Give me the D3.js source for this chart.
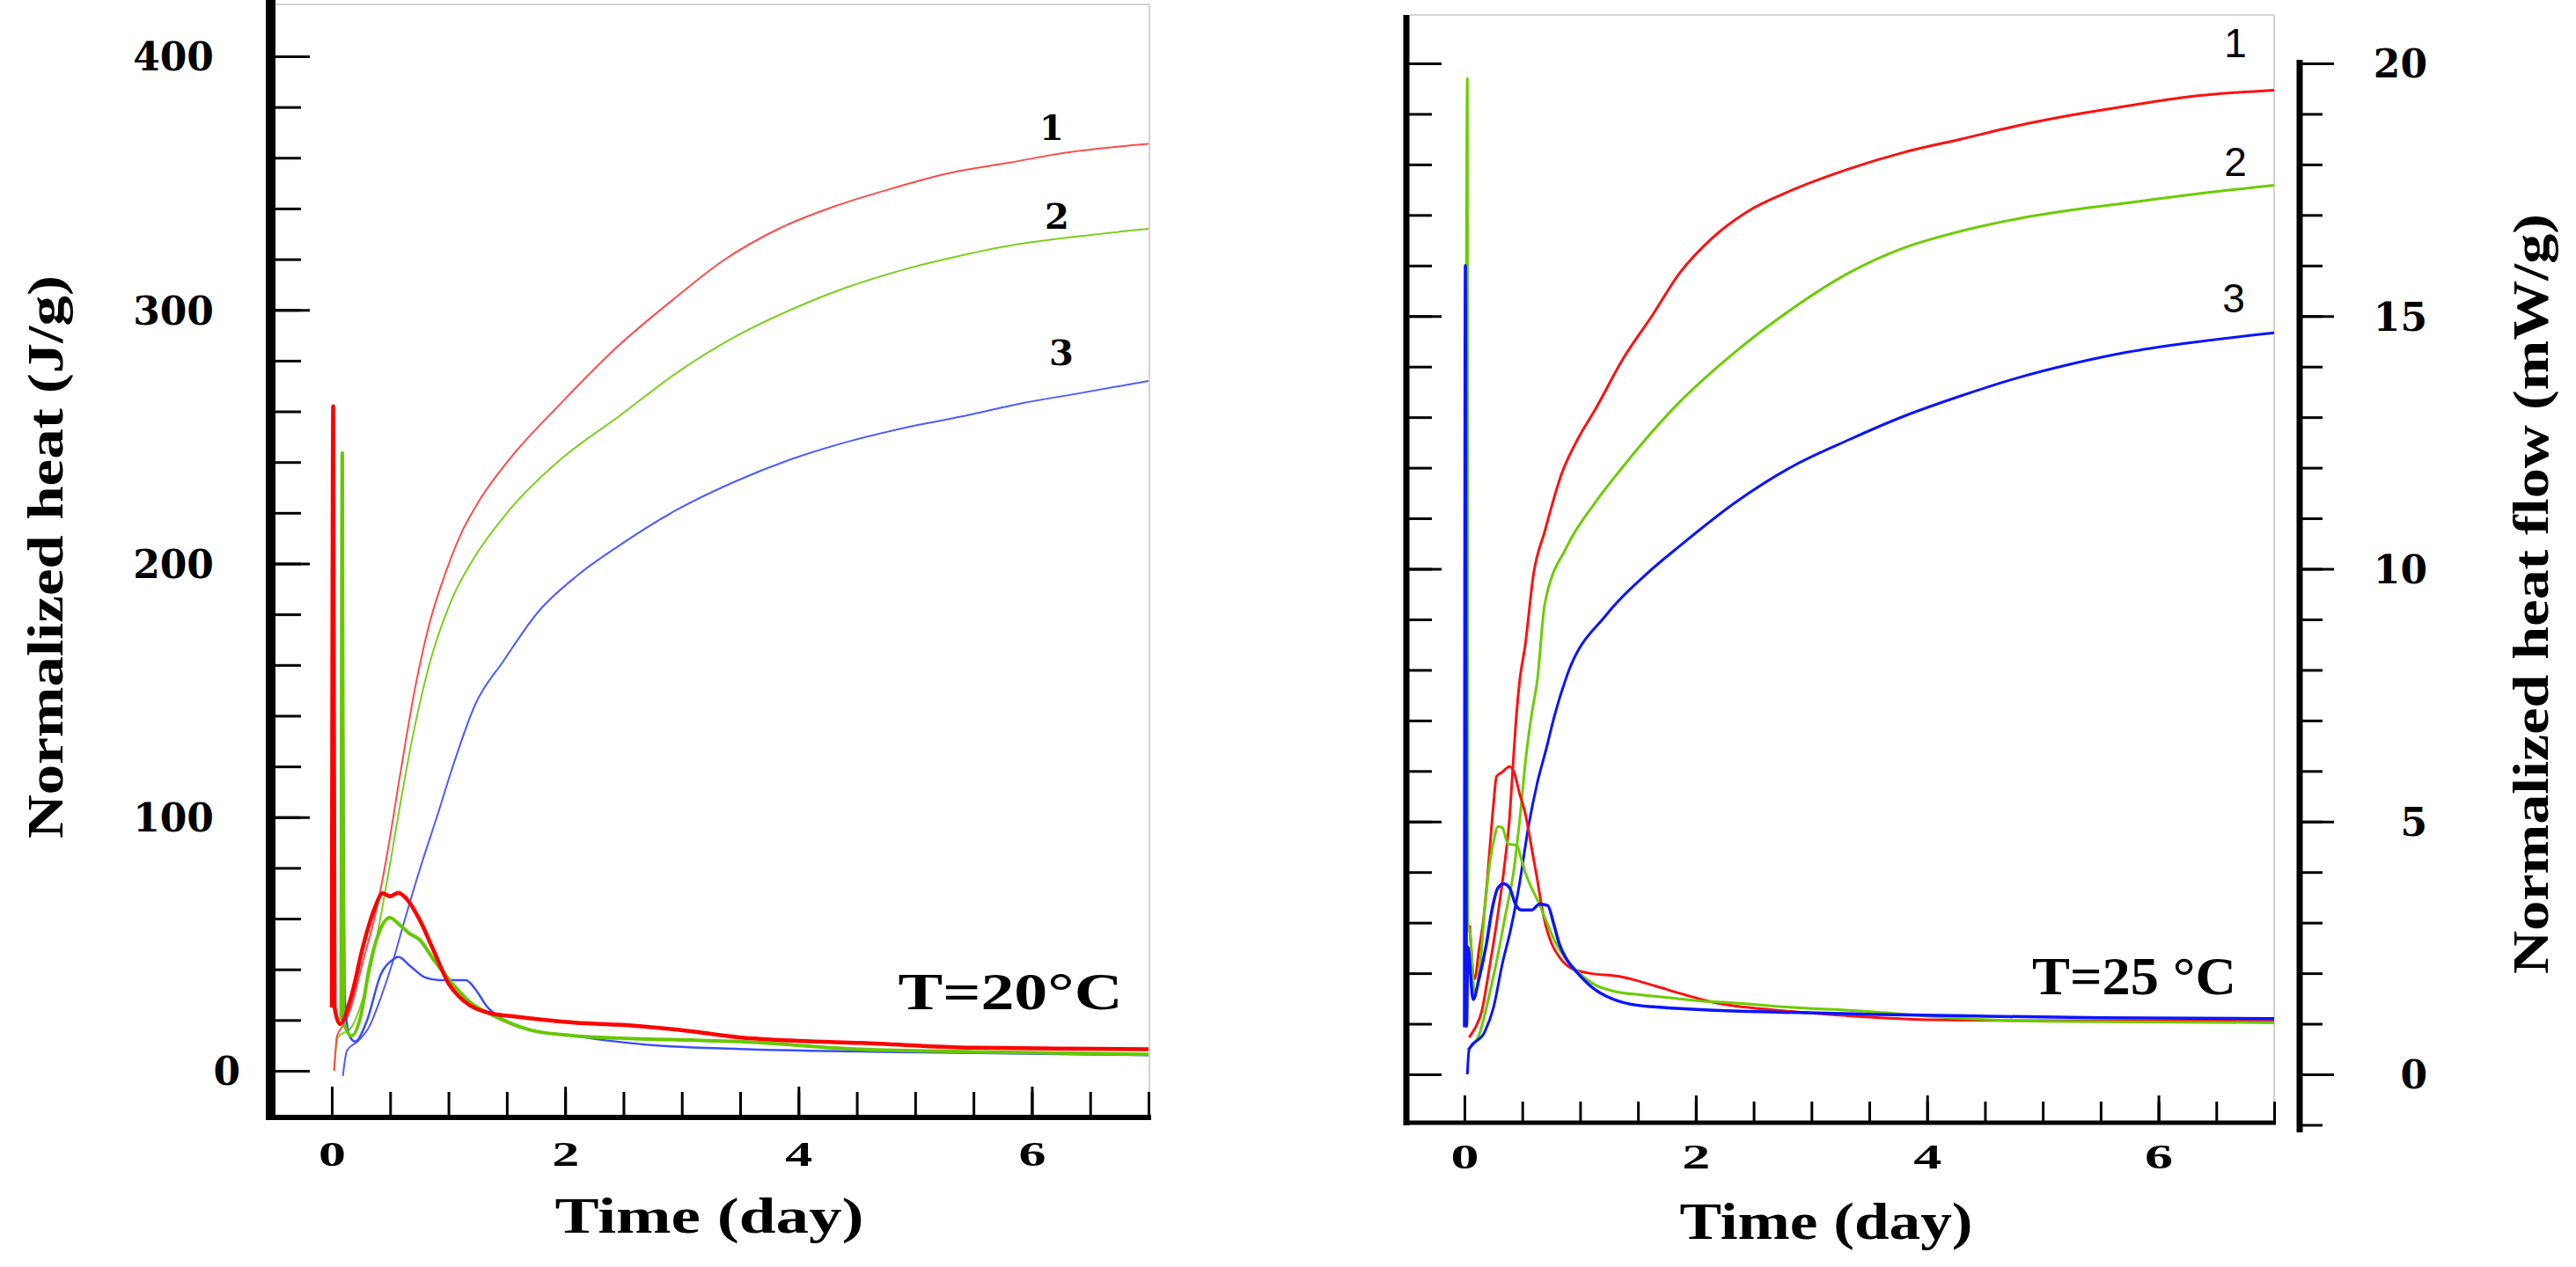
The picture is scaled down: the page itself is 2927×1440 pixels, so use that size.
<!doctype html>
<html>
<head>
<meta charset="utf-8">
<title>Normalized heat</title>
<script src="https://cdn.jsdelivr.net/npm/d3@7"></script>
<style>
  body { margin: 0; background: #fff; }
  svg { display: block; }
  .ttl { font-family: "Liberation Serif", "Times New Roman", serif; font-weight: bold; fill: #000; }
  .num { font-family: "DejaVu Serif", serif; font-weight: bold; fill: #000; }
</style>
</head>
<body>
<svg width="2927" height="1440"></svg>
<script>
// tick labels
var dayTicks = [0, 2, 4, 6];
var heatTicks = [0, 100, 200, 300, 400];
var flowTicks = [0, 5, 10, 15, 20];

// T=20 C panel, [day, J/g] - cumulative heat
var cum20_1 = [[0.02,0],[0.045,13.8],[0.1,18],[0.15,23],[0.27,43.7],[0.37,61],[0.46,81.7],[0.59,118],[0.71,150],[0.835,176],[0.98,197],[1.1,211],[1.28,226],[1.52,241],[1.96,263],[2.46,286],[2.95,305],[3.34,319],[3.83,332],[4.32,341],[4.81,348],[5.3,354],[5.8,358],[6.29,362],[7.0,365.5]];
var cum20_2 = [[0.02,0],[0.05,13],[0.17,17.3],[0.32,38],[0.42,61],[0.5,81.7],[0.56,98],[0.69,131],[0.835,160],[1.03,186],[1.23,203],[1.52,221],[1.96,241],[2.46,258],[2.95,275],[3.44,289],[3.93,300],[4.42,309],[4.91,316],[5.4,321.5],[5.89,326],[6.39,329],[7.0,332]];
var cum20_3 = [[0.095,-2],[0.13,8],[0.22,11.5],[0.32,17.3],[0.42,28.8],[0.52,42.6],[0.62,58.7],[0.77,81.7],[0.9,100],[1.03,119],[1.23,144.5],[1.47,161.5],[1.77,181],[2.11,195.5],[2.46,207],[2.95,221],[3.44,232],[3.93,241],[4.42,248],[4.91,253.5],[5.4,258],[5.89,263],[6.39,267],[7.0,272]];
// T=20 C panel - heat flow traces
var flow20_1 = [[0.0,25],[0.012,262],[0.024,25],[0.07,18.4],[0.17,29.9],[0.27,49.5],[0.37,64.4],[0.435,70],[0.5,68.8],[0.57,70.2],[0.65,67.3],[0.75,59.8],[0.875,47.2],[1.0,34.5],[1.13,27.6],[1.33,23],[1.58,21.3],[2.08,19],[2.59,17.8],[3.09,15.5],[3.49,13.2],[4.0,11.8],[4.52,11],[5.5,9.1],[6.2,8.8],[7.0,8.5]];
var flow20_2 = [[0.08,20],[0.09,243.6],[0.1,19.6],[0.17,13.8],[0.25,21.9],[0.32,40.3],[0.4,54],[0.5,60.4],[0.57,58],[0.67,54],[0.75,51.8],[0.875,43.7],[1.03,34.5],[1.2,26.5],[1.38,21.9],[1.7,16.1],[2.08,13.8],[2.59,12.7],[3.09,12.1],[3.49,11.5],[4.52,8.5],[5.5,7.5],[7.0,6.5]];
var flow20_3 = [[0.085,20],[0.095,148.7],[0.11,30],[0.15,14],[0.2,11.5],[0.3,19.6],[0.42,38],[0.52,43.7],[0.57,44.9],[0.67,41.4],[0.8,36.8],[0.925,35.7],[1.15,35.7],[1.23,32.2],[1.33,25.3],[1.48,20.1],[1.7,16.1],[2.08,13.8],[2.33,12.1],[2.84,9.8],[3.49,8.6],[4.52,7.6],[5.5,7],[7.0,6.2]];

// T=25 C panel, [day, mW/g]
var cum25_1 = [[0.04,0.73],[0.088,0.9],[0.15,1.25],[0.2,1.89],[0.25,2.58],[0.3,3.34],[0.35,4.21],[0.39,5.08],[0.415,5.95],[0.44,6.82],[0.476,7.76],[0.524,8.47],[0.597,9.89],[0.694,10.74],[0.84,11.88],[0.985,12.59],[1.13,13.15],[1.37,14.15],[1.62,15.0],[1.86,15.85],[2.15,16.56],[2.44,17.06],[2.83,17.49],[3.32,17.91],[3.8,18.24],[4.29,18.5],[4.77,18.76],[5.26,18.98],[5.74,19.16],[6.23,19.33],[7.0,19.47]];
var cum25_2 = [[0.025,0.49],[0.126,0.78],[0.2,1.42],[0.277,2.23],[0.35,3.1],[0.43,4.09],[0.48,5.08],[0.53,6.24],[0.58,7.11],[0.63,7.8],[0.694,9.3],[0.888,10.45],[1.13,11.31],[1.37,12.02],[1.86,13.3],[2.34,14.29],[2.83,15.14],[3.32,15.85],[3.8,16.35],[4.29,16.68],[4.77,16.92],[5.26,17.1],[5.74,17.24],[6.23,17.39],[7.0,17.59]];
var cum25_3 = [[0.025,0],[0.04,0.49],[0.176,0.84],[0.25,1.31],[0.327,2.18],[0.4,2.87],[0.478,3.8],[0.553,4.9],[0.63,5.77],[0.704,6.41],[0.78,7.11],[0.888,7.9],[1.23,9.1],[1.57,9.89],[1.86,10.45],[2.34,11.31],[2.83,12.02],[3.32,12.55],[3.8,13.02],[4.29,13.42],[4.77,13.77],[5.26,14.06],[5.74,14.29],[6.23,14.46],[7.0,14.67]];
var flow25_1 = [[0.045,2.95],[0.088,1.89],[0.126,2.47],[0.164,3.05],[0.2,3.92],[0.226,4.67],[0.252,5.37],[0.277,5.89],[0.327,5.98],[0.39,6.09],[0.428,5.98],[0.478,5.54],[0.528,5.14],[0.566,4.67],[0.629,3.86],[0.667,3.34],[0.704,2.93],[0.755,2.58],[0.83,2.29],[0.93,2.09],[1.08,2.0],[1.33,1.94],[1.48,1.86],[1.66,1.74],[1.91,1.57],[2.16,1.42],[2.42,1.33],[2.79,1.25],[3.3,1.16],[4.0,1.08],[5.0,1.06],[7.0,1.05]];
var flow25_2 = [[0.012,11.7],[0.025,19.7],[0.03,3.0],[0.05,2.76],[0.088,1.6],[0.138,2.23],[0.176,3.28],[0.214,4.09],[0.252,4.61],[0.29,4.9],[0.327,4.88],[0.377,4.56],[0.453,4.53],[0.49,4.27],[0.528,3.98],[0.579,3.69],[0.642,3.4],[0.704,3.05],[0.78,2.64],[0.855,2.35],[0.98,2.03],[1.13,1.77],[1.28,1.65],[1.53,1.57],[1.79,1.51],[2.04,1.45],[2.29,1.42],[2.79,1.33],[3.45,1.25],[4.2,1.12],[5.0,1.05],[7.0,1.02]];
var flow25_3 = [[0.0,0.93],[0.008,16.0],[0.018,0.95],[0.03,2.52],[0.075,1.48],[0.126,1.89],[0.19,2.58],[0.24,3.28],[0.29,3.69],[0.34,3.77],[0.39,3.69],[0.44,3.37],[0.49,3.25],[0.58,3.25],[0.65,3.37],[0.72,3.34],[0.77,2.99],[0.82,2.58],[0.88,2.29],[0.98,2.0],[1.11,1.71],[1.26,1.51],[1.43,1.39],[1.66,1.33],[2.04,1.28],[2.54,1.24],[3.45,1.19],[4.5,1.15],[5.5,1.12],[7.0,1.1]];

var svg = d3.select("svg");

var xL = d3.scaleLinear().domain([0, 7]).range([377, 1305]),
    yL = d3.scaleLinear().domain([0, 400]).range([1217, 64]);
var xR = d3.scaleLinear().domain([0, 7]).range([1664, 2584]),
    yR = d3.scaleLinear().domain([0, 20]).range([1221, 72]);

function addLine(data, x, y, color, width) {
    svg.append("path").datum(data)
        .attr("fill", "none")
        .attr("stroke", color)
        .attr("stroke-width", width)
        .attr("stroke-linejoin", "round")
        .attr("d", d3.line()
            .curve(d3.curveMonotoneX)
            .x(function (d) { return x(d[0]); })
            .y(function (d) { return y(d[1]); }));
}

function ticks(axis, tx, ty) {
    var g = svg.append("g").attr("transform", "translate(" + tx + "," + ty + ")").call(axis);
    g.select(".domain").remove();
    g.selectAll(".tick line").attr("stroke", "#000").attr("stroke-width", 3);
    return g;
}

function line(x1, y1, x2, y2, color, w) {
    svg.append("line").attr("x1", x1).attr("y1", y1).attr("x2", x2).attr("y2", y2)
        .attr("stroke", color).attr("stroke-width", w);
}

function label(txt, x, y, size, len, cls, rot) {
    var t = svg.append("text").attr("class", cls || "ttl")
        .attr("font-size", size)
        .attr("text-anchor", "middle")
        .text(txt);
    if (rot) t.attr("transform", "translate(" + x + "," + y + ") rotate(-90)");
    else t.attr("x", x).attr("y", y);
    if (len) t.attr("textLength", len).attr("lengthAdjust", "spacingAndGlyphs");
    return t;
}

var halfDays = d3.range(0, 7.01, 0.5);
var intFmt = d3.format("d");

// ---- left panel (T=20 C) ----
line(313, 5, 1306, 5, "#d2d2d2", 2);
line(1306, 5, 1306, 1268, "#d2d2d2", 2);

addLine(cum20_3, xL, yL, "#4d5cff", 2);
addLine(cum20_2, xL, yL, "#7ccf1e", 2);
addLine(cum20_1, xL, yL, "#ff4a4a", 2);
addLine(flow20_3, xL, yL, "#3a4cff", 2.5);
addLine(flow20_2, xL, yL, "#66c800", 4);
addLine(flow20_1, xL, yL, "#ff0000", 4.5);

ticks(d3.axisTop(xL).tickValues(halfDays).tickSize(27).tickFormat(""), 0, 1268);
ticks(d3.axisTop(xL).tickValues(dayTicks).tickSize(33).tickFormat(""), 0, 1268);
ticks(d3.axisRight(yL).tickValues(d3.range(0, 401, 20)).tickSize(29).tickFormat(""), 313, 0);
ticks(d3.axisRight(yL).tickValues(heatTicks).tickSize(39).tickFormat(""), 313, 0);

var lx = ticks(d3.axisBottom(xL).tickValues(dayTicks).tickSize(0).tickFormat(intFmt), 0, 1270);
lx.selectAll("text").attr("class", "ttl").attr("font-size", 41)
    .attr("y", 55).attr("dy", 0).attr("textLength", 31).attr("lengthAdjust", "spacingAndGlyphs");

var ly = ticks(d3.axisLeft(yL).tickValues(heatTicks).tickSize(0).tickFormat(intFmt), 308, 0);
ly.selectAll("text").attr("class", "num").attr("font-size", 44).attr("text-anchor", "end")
    .attr("x", function (d) { return d === 0 ? -35 : -65; }).attr("dy", "0.36em");

line(307.5, 0, 307.5, 1273, "#000", 11);
line(302, 1270, 1308, 1270, "#000", 6);

label("Normalized heat (J/g)", 71, 633, 58, 640, "ttl", true);
label("Time (day)", 806, 1401, 58, 351);
label("T=20\u00B0C", 1148, 1147, 60, 255);
label("1", 1195, 159, 40, null, "num");
label("2", 1201, 260, 40, null, "num");
label("3", 1206, 415, 40, null, "num");

// ---- right panel (T=25 C) ----
line(1602, 17, 2584, 17, "#d2d2d2", 2);
line(2584, 17, 2584, 1274, "#d2d2d2", 2);

addLine(cum25_1, xR, yR, "#ff1010", 3);
addLine(cum25_2, xR, yR, "#6ccc00", 3);
addLine(cum25_3, xR, yR, "#0a14ff", 3);
addLine(flow25_1, xR, yR, "#ff1010", 3);
addLine(flow25_2, xR, yR, "#6ccc00", 3);
addLine(flow25_3, xR, yR, "#0a14ff", 3.5);

ticks(d3.axisTop(xR).tickValues(halfDays).tickSize(23).tickFormat(""), 0, 1275);
ticks(d3.axisTop(xR).tickValues(dayTicks).tickSize(30).tickFormat(""), 0, 1275);
ticks(d3.axisRight(yR).tickValues(d3.range(0, 20.01, 1)).tickSize(26).tickFormat(""), 1601, 0);
ticks(d3.axisRight(yR).tickValues(flowTicks).tickSize(37).tickFormat(""), 1601, 0);
ticks(d3.axisRight(yR).tickValues(d3.range(-1, 20.01, 1)).tickSize(23).tickFormat(""), 2616, 0);
ticks(d3.axisRight(yR).tickValues(flowTicks).tickSize(36).tickFormat(""), 2616, 0);

var rx = ticks(d3.axisBottom(xR).tickValues(dayTicks).tickSize(0).tickFormat(intFmt), 0, 1276);
rx.selectAll("text").attr("class", "ttl").attr("font-size", 39)
    .attr("y", 52).attr("dy", 0).attr("textLength", 32).attr("lengthAdjust", "spacingAndGlyphs");

var ry = ticks(d3.axisRight(yR).tickValues(flowTicks).tickSize(0).tickFormat(intFmt), 2616, 0);
ry.selectAll("text").attr("class", "num").attr("font-size", 44).attr("text-anchor", "end")
    .attr("x", 142).attr("dy", "0.36em");

line(1598, 17, 1598, 1279, "#000", 7);
line(1595, 1276, 2586, 1276, "#000", 5);
line(2613, 68, 2613, 1287, "#000", 7);

label("Normalized heat flow (mW/g)", 2895, 675, 58, 864, "ttl", true);
label("Time (day)", 2075, 1408, 60, 333);
label("T=25 \u00B0C", 2425, 1130, 62, 232);
label("1", 2540, 65, 46, null).attr("class", null).attr("font-family", "Liberation Sans");
label("2", 2540, 200, 46, null).attr("class", null).attr("font-family", "Liberation Sans");
label("3", 2538, 355, 46, null).attr("class", null).attr("font-family", "Liberation Sans");
</script>
</body>
</html>
